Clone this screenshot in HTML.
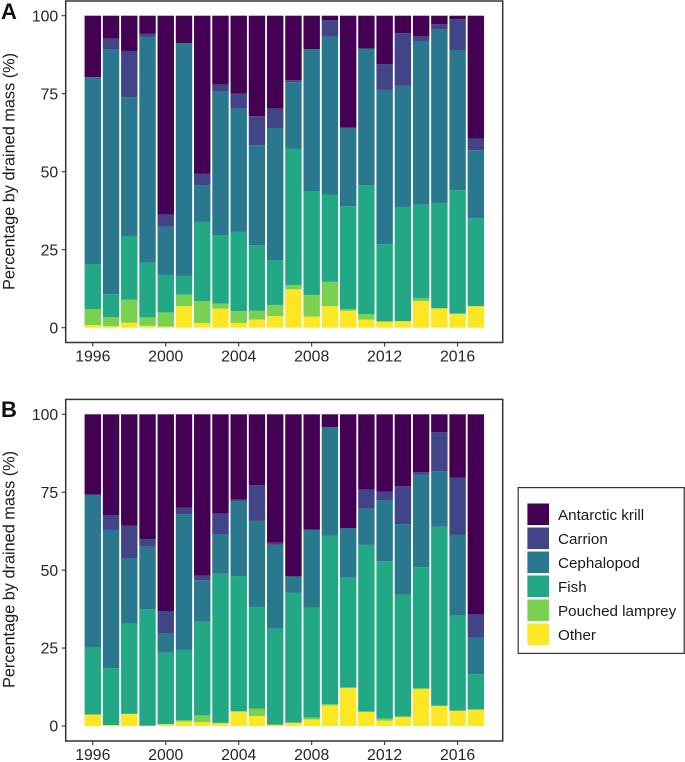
<!DOCTYPE html>
<html lang="en">
<head>
<meta charset="utf-8">
<title>Diet composition by drained mass</title>
<style>
html,body{margin:0;padding:0;background:#fff;}
body{width:685px;height:762px;overflow:hidden;}
svg{display:block;font-family:"Liberation Sans",Arial,sans-serif;}
</style>
</head>
<body>
<svg id="chart" xmlns="http://www.w3.org/2000/svg" width="685" height="762" viewBox="0 0 685 762">
  <rect x="0" y="0" width="685" height="762" fill="#ffffff"/>
  <text x="1" y="19" font-size="22" font-weight="bold" fill="#111">A</text>
  <text x="1" y="417" font-size="22" font-weight="bold" fill="#111">B</text>
  <text transform="translate(14.5,171.5) rotate(-90)" text-anchor="middle" font-size="16.3" fill="#1a1a1a">Percentage by drained mass (%)</text>
  <text transform="translate(14.5,569.5) rotate(-90)" text-anchor="middle" font-size="16.3" fill="#1a1a1a">Percentage by drained mass (%)</text>
  <g id="plots"></g>
  <g>
    <rect x="518.2" y="487.6" width="166" height="165.8" fill="#fff" stroke="#333" stroke-width="1.2"/>
    <rect x="527.4" y="503.5" width="21.6" height="21.6" fill="#440154"/>
    <text x="558" y="520" font-size="15.2" fill="#1a1a1a">Antarctic krill</text>
    <rect x="527.4" y="527.5" width="21.6" height="21.6" fill="#414487"/>
    <text x="558" y="544" font-size="15.2" fill="#1a1a1a">Carrion</text>
    <rect x="527.4" y="551.5" width="21.6" height="21.6" fill="#2A788E"/>
    <text x="558" y="568" font-size="15.2" fill="#1a1a1a">Cephalopod</text>
    <rect x="527.4" y="575.5" width="21.6" height="21.6" fill="#22A884"/>
    <text x="558" y="592" font-size="15.2" fill="#1a1a1a">Fish</text>
    <rect x="527.4" y="599.5" width="21.6" height="21.6" fill="#7AD151"/>
    <text x="558" y="616" font-size="15.2" fill="#1a1a1a">Pouched lamprey</text>
    <rect x="527.4" y="623.5" width="21.6" height="21.6" fill="#FDE725"/>
    <text x="558" y="640" font-size="15.2" fill="#1a1a1a">Other</text>
  </g>
</svg>
<script>
const years = [1996,1997,1998,1999,2000,2001,2002,2003,2004,2005,2006,2007,2008,2009,2010,2011,2012,2013,2014,2015,2016,2017];
const xTickLabels = [1996,2000,2004,2008,2012,2016];
const yTickLabels = [0,25,50,75,100];

const krillA =   [19.7,7.4,11.3,5.7,63.8,8.8,50.7,22.1,25,32.2,29.8,20.7,10.7,1.4,35.9,10.5,15.5,5.6,6.5,2.7,1.1,39.4];
const carrionA = [0,3.4,14.8,1.1,3.8,0,3.6,2.3,4.8,9.3,6.2,0.6,0,5.3,0,0,8.3,16.9,1.6,1.8,9.9,3.7];
const cephA =    [59.9,78.5,44.5,72.4,15.5,74.6,11.8,45.9,39.5,32.1,42.3,21.4,45.5,50.6,25.2,43.8,49.4,38.8,52.5,55.5,44.9,21.8];
const fishA =    [14.4,7.3,20.4,17.5,12,6,25.4,22,25.4,21,14.4,43.6,33.3,28,32.9,41.3,24.8,36.6,30,33.8,39.6,28.2];
const lampreyA = [5.15,2.9,7.4,2.7,4.5,3.7,7,1.6,3.8,2.8,3.6,1.4,6.9,7.8,0.6,1.8,0,0,0.9,0,0,0];
const otherA =   [0.85,0.5,1.6,0.6,0.4,6.9,1.5,6.1,1.5,2.6,3.7,12.3,3.6,6.9,5.4,2.6,2,2.1,8.5,6.2,4.5,6.9];

const krillB =   [25.8,32.3,35.7,40.1,63.1,30,51.8,31.8,27.4,22.7,41.2,52,37,4.1,36.5,24.1,24.8,23.1,18.6,5.7,20.3,64.2];
const carrionB = [0,4.8,10.4,2.4,7.3,2.1,1.4,6.6,0.4,11.5,0.7,0,0,0,0,6.2,2.7,12.2,0.7,12.6,18.4,7.4];
const cephB =    [49.1,44.4,21,20,6.1,43.5,13.3,12.7,24.1,27.6,26.9,5.3,25,34.8,15.9,11.6,19.6,22.6,29.8,17.8,25.9,11.8];
const fishB =    [21.4,18.2,29,37.4,22.9,22.5,30.1,47.9,43.4,32.6,30.8,41.6,35.3,54.1,35.3,53.5,50.5,39.1,38.9,57.4,30.5,11.3];
const lampreyB = [0,0,0,0,0,0.5,2.2,0.15,0,2.4,0,0.1,0.6,0.4,0,0,0.7,0,0,0,0,0];
const otherB =   [3.7,0.3,3.9,0.1,0.6,1.4,1.2,0.85,4.7,3.2,0.4,1,2.1,6.6,12.3,4.6,1.7,3,12,6.5,4.9,5.3];

const seriesNames = ['other','pouched-lamprey','fish','cephalopod','carrion','antarctic-krill'];
const seriesColors = ['#FDE725','#7AD151','#22A884','#2A788E','#414487','#440154'];

const NS = 'http://www.w3.org/2000/svg';
const plots = document.getElementById('plots');

function make(tag, attrs, parent) {
  const el = document.createElementNS(NS, tag);
  for (const k in attrs) el.setAttribute(k, attrs[k]);
  parent.appendChild(el);
  return el;
}

function drawPanel(id, box, y0, y100, stacks) {
  const pitch = 18.24;
  const barW = pitch * 0.9;
  const xScale = year => 92.8 + (year - years[0]) * pitch;
  const yScale = v => y0 + (y100 - y0) * v / 100;

  const g = make('g', {}, plots);
  
  

  years.forEach((year, i) => {
    let base = 0;
    stacks.forEach((values, s) => {
      const v = values[i];
      if (v > 0) {
        const top = yScale(base + v);
        const bottom = yScale(base);
        const r = make('rect', {x: xScale(year) - barW / 2, y: top, width: barW, height: bottom - top, fill: seriesColors[s]}, g);
        
        
      }
      base += v;
    });
  });

  const frame = make('rect', {x: box.x, y: box.y, width: box.w, height: box.h, fill: 'none', stroke: '#333', 'stroke-width': 1.5}, g);
  
  

  yTickLabels.forEach(v => {
    const y = yScale(v);
    const tick = make('line', {x1: box.x - 4, x2: box.x, y1: y, y2: y, stroke: '#333', 'stroke-width': 1.1}, g);
    
    
    const t = make('text', {x: box.x - 7.5, y: y + 5.6, 'text-anchor': 'end', 'font-size': 15.8, fill: '#262626'}, g);
    
    
    t.textContent = v;
  });

  xTickLabels.forEach(year => {
    const x = xScale(year);
    const bottom = box.y + box.h;
    const tick = make('line', {x1: x, x2: x, y1: bottom, y2: bottom + 4, stroke: '#333', 'stroke-width': 1.1}, g);
    
    
    const t = make('text', {x: x, y: bottom + 19, 'text-anchor': 'middle', 'font-size': 15.8, fill: '#262626'}, g);
    
    
    t.textContent = year;
  });
}

drawPanel('a', {x: 65.7, y: 1, w: 437, h: 341.5}, 327.7, 15.7,
  [otherA, lampreyA, fishA, cephA, carrionA, krillA]);
drawPanel('b', {x: 65.7, y: 399.4, w: 437, h: 341.6}, 726, 414.3,
  [otherB, lampreyB, fishB, cephB, carrionB, krillB]);
</script>
</body>
</html>
